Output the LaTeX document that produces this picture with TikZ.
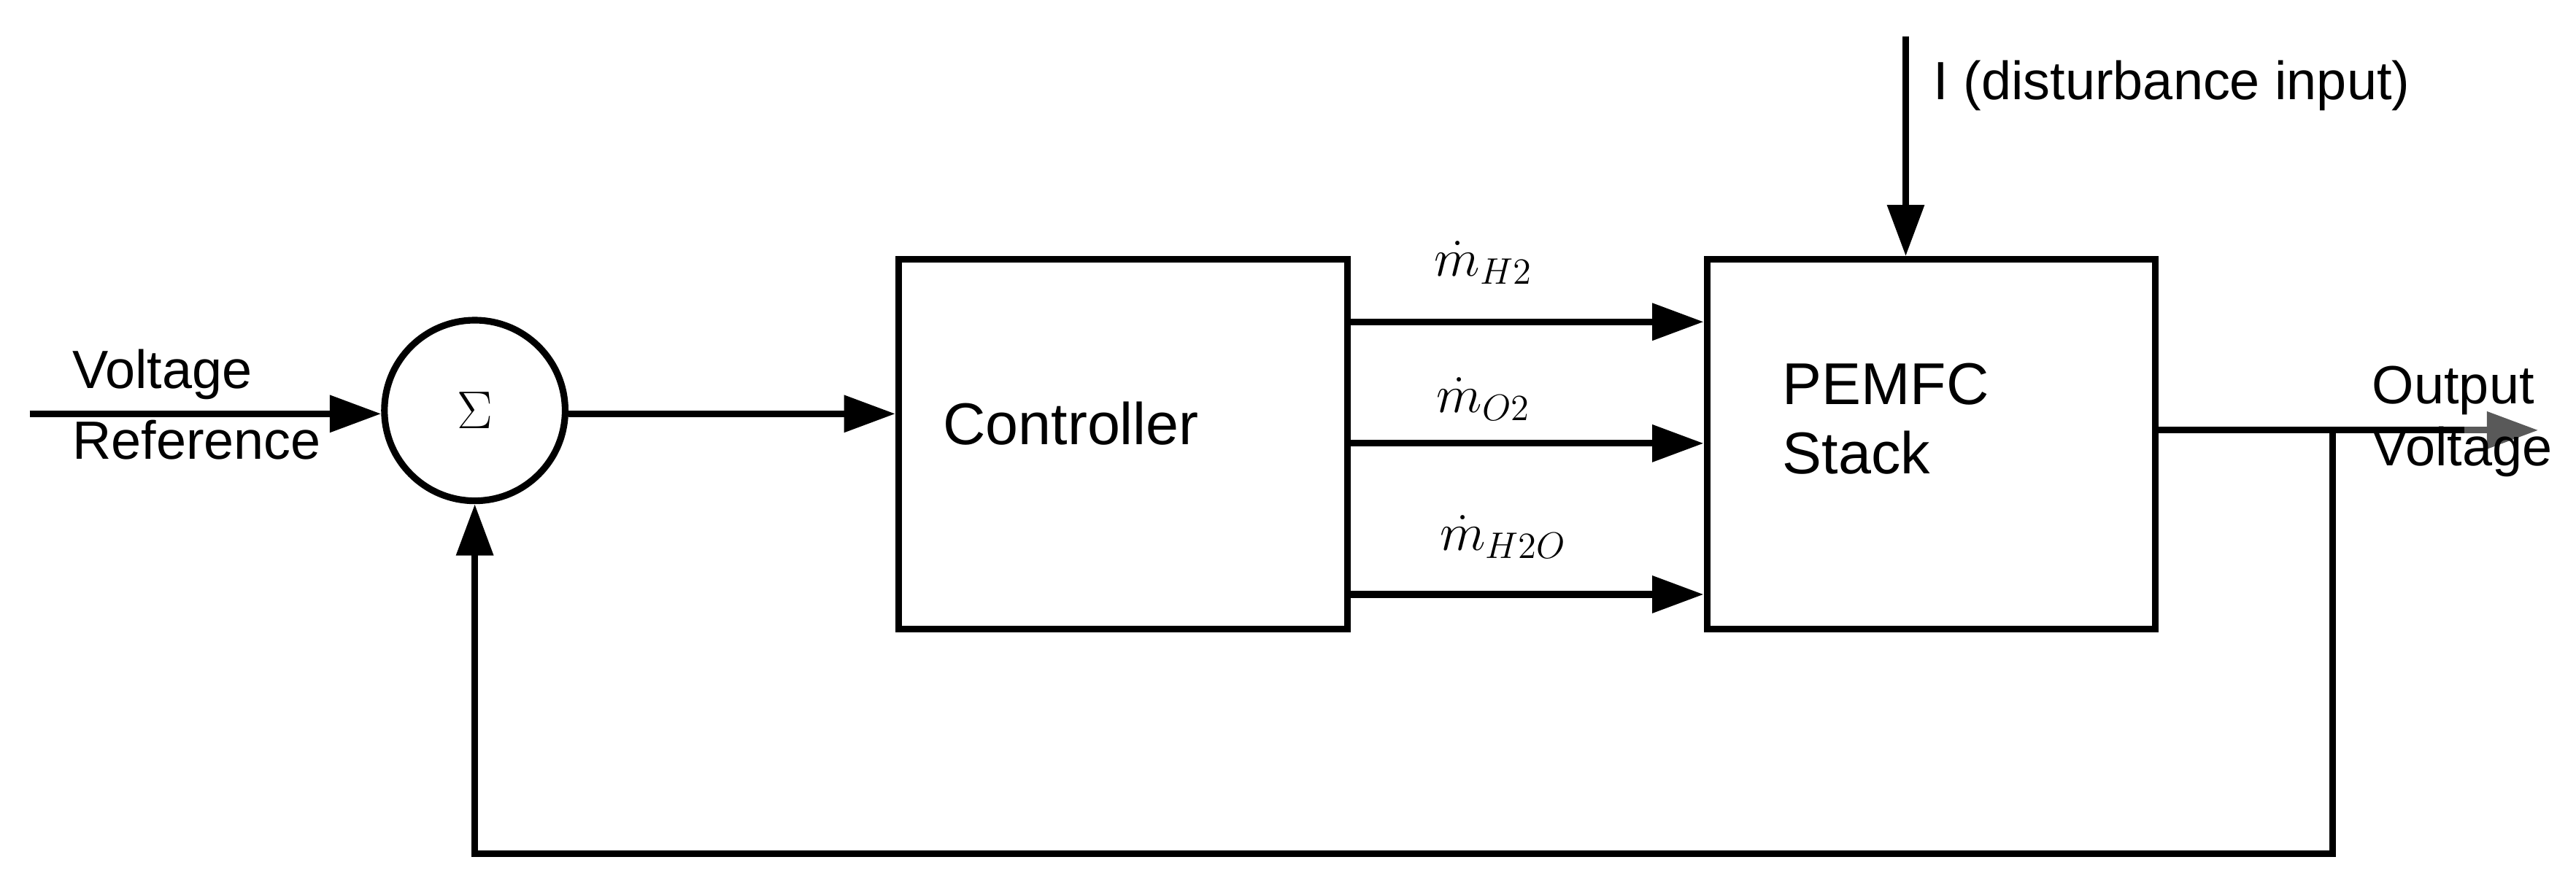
\documentclass[tikz,border=0pt]{standalone}
\usepackage{fontspec}
\setmainfont{Liberation Sans}
\usetikzlibrary{arrows.meta}
\begin{document}
\begin{tikzpicture}[x=0.0225cm,y=-0.0225cm,
  line width=2.6pt,
  arr/.style={-{Triangle[length=20pt,width=14pt]}},
  blk/.style={draw,line width=2.6pt,minimum width=273*0.0225cm,minimum height=225*0.0225cm,inner sep=0},
  txt/.style={font=\fontsize{21}{25}\selectfont,inner sep=0,anchor=west,align=left},
  lab/.style={font=\fontsize{22}{26}\selectfont,inner sep=0}]
\useasboundingbox (0,0) rectangle (1568,543);
\node[draw,circle,line width=2.6pt,minimum size=110*0.0225cm,inner sep=0] (s) at (289,250) {\fontsize{22}{24}\selectfont$\Sigma$};
\node[blk] (c) at (683.5,270.5) {};
\node[blk] (p) at (1175.5,270.5) {};
\node[txt,font=\fontsize{23}{27}\selectfont] at (572,258) {Controller};
\node[txt,font=\fontsize{23}{27}\selectfont] at (1083,255) {PEMFC\\Stack};
\coordinate (in) at (18,252);
\draw[arr] (in) -- (s.west |- in);
\node[txt] at (42,228) {Voltage};
\node[txt] at (42,268) {Reference};
\draw[arr] (s.east |- 0,252) -- (c.west |- 0,252);
\foreach \y in {196,270,362}{
  \draw[arr] (c.east |- 0,\y) -- (p.west |- 0,\y);
}
\node[lab] at (903,160) {$\dot{m}_{H2}$};
\node[lab] at (903,243) {$\dot{m}_{O2}$};
\node[lab] at (915,327) {$\dot{m}_{H2O}$};
\coordinate (d) at (1160,22);
\draw[arr] (d) -- (p.north -| d);
\node[txt] at (1175,52) {I (disturbance input)};
\coordinate (o) at (1545,262);
\coordinate (j) at (1420,262);
\draw (p.east |- o) -- (1500,262);
\draw[-{Triangle[length=20pt,width=14pt]},gray!70!black] (1500,262) -- (o);
\node[txt] at (1442,238) {Output};
\node[txt] at (1442,275) {Voltage};
\draw[arr] (j) -- (1420,520) -- (289,520) -- (s.south);
\end{tikzpicture}
\end{document}
